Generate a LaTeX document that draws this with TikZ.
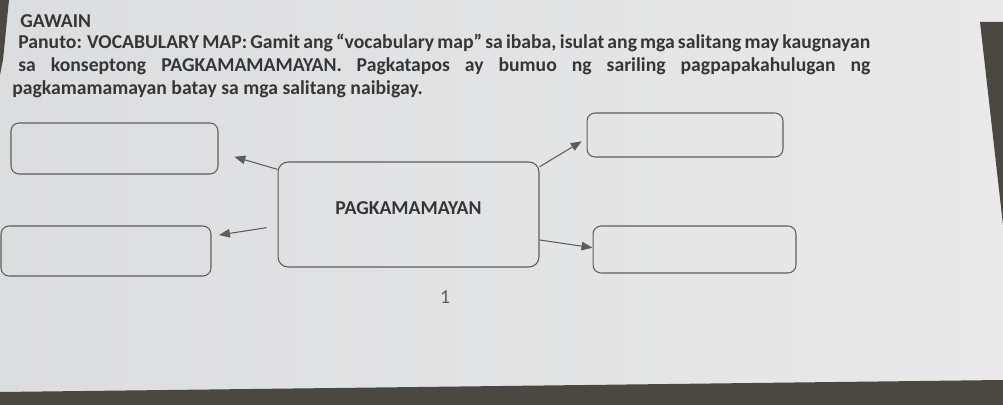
\documentclass[tikz,border=0pt]{standalone}
\usepackage{fontspec}
\setmainfont{Carlito}
\usetikzlibrary{arrows.meta}
\definecolor{paper}{HTML}{DCDDDF}
\definecolor{paperlight}{HTML}{E9E9E9}
\definecolor{table}{HTML}{4B4742}
\definecolor{ink}{HTML}{363636}
\definecolor{rule}{HTML}{5C5C5C}
\tikzset{
  wordbox/.style={draw=rule, line width=0.6pt, rounded corners=0.16cm, inner sep=0pt},
  link/.style={draw=rule, line width=0.6pt, -{Triangle[length=0.22cm,width=0.17cm]}},
  textline/.style={anchor=base west, inner sep=0pt, text=ink, font=\fontsize{11.2}{13}\selectfont\bfseries},
}
\begin{document}
\begin{tikzpicture}[x=0.02cm,y=-0.02cm]
  \useasboundingbox (0,0) rectangle (1003,405);
  % paper on the table
  \shade[left color=paper, right color=paperlight] (0,0) rectangle (1003,405);
  \fill[table] (980,22) -- (1003,22) -- (1003,225) -- cycle;
  \fill[table] (0,392) -- (1003,380) -- (1003,405) -- (0,405) -- cycle;
  \fill[table] (0,0) -- (9,0) -- (3,60) -- (0,75) -- cycle;

  % instructions
  \node[textline] (title) at (20,28) {GAWAIN};
  \node[textline] (line1) at (18,49) {\makebox[17.04cm][s]{Panuto: VOCABULARY MAP: Gamit ang “vocabulary map” sa ibaba, isulat ang mga salitang may kaugnayan}};
  \node[textline] (line2) at (18,72) {\makebox[17.04cm][s]{sa konseptong PAGKAMAMAMAYAN. Pagkatapos ay bumuo ng sariling pagpapakahulugan ng}};
  \node[textline] (line3) at (12,95) {pagkamamamayan batay sa mga salitang naibigay.};

  % vocabulary map
  \node[wordbox, rounded corners=0.2cm, minimum width=5.22cm, minimum height=2.1cm,
        text depth=7pt, text=ink, font=\fontsize{11.2}{13}\selectfont\bfseries] (hub) at (408.5,214.5) {PAGKAMAMAYAN};
  \node[wordbox, minimum width=4.14cm, minimum height=1.02cm] (w1) at (114.5,148.5) {};
  \node[wordbox, minimum width=4.2cm, minimum height=1.0cm] (w2) at (106,251) {};
  \node[wordbox, minimum width=3.92cm, minimum height=0.88cm] (w3) at (685,135) {};
  \node[wordbox, minimum width=4.06cm, minimum height=0.94cm] (w4) at (694.5,249.5) {};
  \node[text=rule, font=\fontsize{11.2}{13}\selectfont] (page) at (445,297) {1};

  \begin{scope}[link]
    \draw[shorten >=0.33cm] (hub.161) -- (w1.358);
    \draw[shorten <=0.22cm, shorten >=0.15cm] (hub.185) -- (w2.8);
    \draw[shorten >=0.11cm] (hub.20) -- (w3.182);
    \draw (hub.-11) -- (w4.179);
  \end{scope}
\end{tikzpicture}
\end{document}
